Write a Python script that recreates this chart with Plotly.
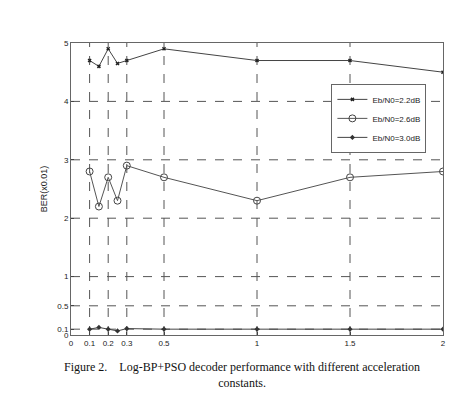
import plotly.graph_objects as go

x = [0.1, 0.15, 0.2, 0.25, 0.3, 0.5, 1, 1.5, 2]
s1 = [4.7, 4.6, 4.9, 4.65, 4.7, 4.9, 4.7, 4.7, 4.5]
s2 = [2.8, 2.2, 2.7, 2.3, 2.9, 2.7, 2.3, 2.7, 2.8]
s3 = [0.1, 0.13, 0.1, 0.07, 0.11, 0.1, 0.1, 0.1, 0.1]
names = ["Eb/N0=2.2dB", "Eb/N0=2.6dB", "Eb/N0=3.0dB"]
xticks = [0, 0.1, 0.2, 0.3, 0.5, 1, 1.5, 2]
yticks = [0, 0.1, 0.5, 1, 2, 3, 4, 5]

fig = go.Figure()
fig.add_trace(go.Scatter(x=x, y=s1, name=names[0], mode="lines+markers",
    line=dict(color="#444", width=1), marker=dict(symbol="x-thin", size=3, color="#222", line=dict(width=1.5, color="#222"))))
fig.add_trace(go.Scatter(x=x, y=s2, name=names[1], mode="lines+markers",
    line=dict(color="#555", width=1), marker=dict(symbol="circle-open", size=7, color="#444")))
fig.add_trace(go.Scatter(x=x, y=s3, name=names[2], mode="lines+markers",
    line=dict(color="#444", width=1), marker=dict(symbol="diamond", size=4, color="#333")))

for v in [0.1, 0.2, 0.3, 0.5, 1, 1.5]:
    fig.add_vline(x=v, line=dict(color="#555", width=1, dash="dash"), layer="below")
for v in [0.1, 0.5, 1, 2, 3, 4]:
    fig.add_hline(y=v, line=dict(color="#555", width=1, dash="dash"), layer="below")

fig.update_layout(
    width=474, height=401, paper_bgcolor="white", plot_bgcolor="white",
    margin=dict(l=63, r=39, t=35, b=74),
    font=dict(family="Liberation Sans, Arial", size=8, color="#222"),
    showlegend=True,
    legend=dict(x=0.70, y=0.86, xanchor="left", yanchor="top", bgcolor="white",
                bordercolor="#666", borderwidth=1, font=dict(size=8), tracegroupgap=10),
    xaxis=dict(range=[0, 2], tickvals=xticks, ticktext=[str(t) for t in xticks], showgrid=False,
               showline=True, mirror=True, linecolor="#666", ticks="inside", ticklen=3, zeroline=False),
    yaxis=dict(range=[0, 5], tickvals=yticks, ticktext=[str(t) for t in yticks], showgrid=False,
               showline=True, mirror=True, linecolor="#666", ticks="inside", ticklen=3, zeroline=False,
               title=dict(text="BER(x0.01)", standoff=8, font=dict(size=9))),
    annotations=[dict(text="Figure 2.    Log-BP+PSO decoder performance with different acceleration<br>constants.",
                      xref="paper", yref="paper", x=0.46, y=-0.08, xanchor="center", yanchor="top",
                      showarrow=False, align="center",
                      font=dict(family="Liberation Serif, Times New Roman", size=12, color="#111"))],
)
fig.write_html("out.html")
